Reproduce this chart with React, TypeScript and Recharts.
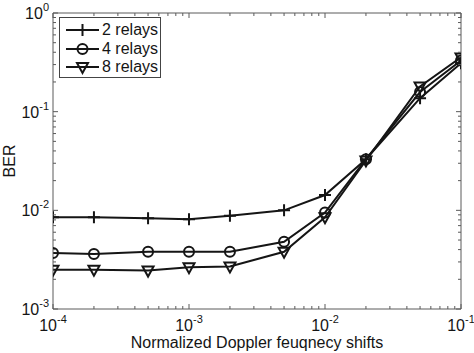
import { LineChart, Line, XAxis, YAxis, Legend } from "recharts"

const dopplerShifts = [1e-4, 2e-4, 5e-4, 1e-3, 2e-3, 5e-3, 1e-2, 2e-2, 5e-2, 1e-1]
const relays2 = [0.0085, 0.0085, 0.0083, 0.0081, 0.0088, 0.01, 0.0143, 0.033, 0.137, 0.31]
const relays4 = [0.0037, 0.0036, 0.0038, 0.0038, 0.0038, 0.0048, 0.0095, 0.033, 0.158, 0.33]
const relays8 = [0.0025, 0.0025, 0.00245, 0.00265, 0.0027, 0.0038, 0.0085, 0.032, 0.18, 0.355]

const xDecades = [-4, -3, -2, -1]
const yDecades = [-3, -2, -1, 0]
const mantissas = [1, 2, 3, 4, 5, 6, 7, 8, 9]

const buildTicks = (decades: number[]) => {
    const out: number[] = []
    decades.forEach((d, i) => {
        if (i === decades.length - 1) {
            out.push(Math.pow(10, d))
            return
        }
        mantissas.forEach((m) => out.push(m * Math.pow(10, d)))
    })
    return out
}
const xTicks = buildTicks(xDecades)
const yTicks = buildTicks(yDecades)

const data = dopplerShifts.map((f, i) => ({
    f,
    r2: relays2[i],
    r4: relays4[i],
    r8: relays8[i],
}))

const INK = "#151515"
const AXIS = "#5a5a5a"
const FONT = "Arial, 'Liberation Sans', sans-serif"

const isMajor = (v: number) => {
    const l = Math.log10(v)
    return Math.abs(l - Math.round(l)) < 1e-6
}

const makeTick = (side: "bottom" | "top" | "left" | "right") => (props: any) => {
    const { x, y, payload } = props
    const v = payload.value
    const major = isMajor(v)
    const len = major ? 5 : 3
    const exp = Math.round(Math.log10(v))
    let line
    if (side === "bottom") line = <line x1={x} y1={y} x2={x} y2={y - len} stroke={AXIS} />
    else if (side === "top") line = <line x1={x} y1={y} x2={x} y2={y + len} stroke={AXIS} />
    else if (side === "left") line = <line x1={x} y1={y} x2={x + len} y2={y} stroke={AXIS} />
    else line = <line x1={x} y1={y} x2={x - len} y2={y} stroke={AXIS} />

    let label = null
    if (major && side === "bottom") {
        label = (
            <text x={x} y={y + 22} textAnchor="middle" fontFamily={FONT} fill={INK}>
                <tspan fontSize={16}>10</tspan>
                <tspan fontSize={11} dy={-8}>{exp}</tspan>
            </text>
        )
    }
    if (major && side === "left") {
        label = (
            <text x={x - 4} y={y + 6} textAnchor="end" fontFamily={FONT} fill={INK}>
                <tspan fontSize={16}>10</tspan>
                <tspan fontSize={11} dy={-8}>{exp}</tspan>
            </text>
        )
    }
    return (
        <g>
            {line}
            {label}
        </g>
    )
}

const PlusMark = ({ cx, cy }: any) => (
    <path d={`M${cx - 6},${cy}H${cx + 6}M${cx},${cy - 6}V${cy + 6}`} stroke={INK} strokeWidth={2} fill="none" />
)
const CircleMark = ({ cx, cy }: any) => (
    <circle cx={cx} cy={cy} r={5} stroke={INK} strokeWidth={2} fill="none" />
)
const TriangleMark = ({ cx, cy }: any) => (
    <path d={`M${cx - 5.5},${cy - 4}L${cx + 5.5},${cy - 4}L${cx},${cy + 6}Z`} stroke={INK} strokeWidth={2} fill="none" />
)

const series = [
    { key: "r2", name: "2 relays", Mark: PlusMark },
    { key: "r4", name: "4 relays", Mark: CircleMark },
    { key: "r8", name: "8 relays", Mark: TriangleMark },
]

const LegendBox = () => (
    <div
        style={{
            border: "1px solid #444",
            background: "#fff",
            width: 102,
            height: 61,
            boxSizing: "border-box",
            paddingTop: 3,
        }}
    >
        {series.map(({ key, name, Mark }) => (
            <div key={key} style={{ display: "flex", alignItems: "center", height: 18.5 }}>
                <svg width={42} height={18} style={{ display: "block" }}>
                    <line x1={6} y1={9} x2={39} y2={9} stroke={INK} strokeWidth={2} />
                    <Mark cx={22.5} cy={9} />
                </svg>
                <span style={{ fontFamily: FONT, fontSize: 16, color: INK, lineHeight: "18px" }}>{name}</span>
            </div>
        ))}
    </div>
)

const renderXLabel = (props: any) => {
    const vb = props.viewBox
    return (
        <text x={vb.x + vb.width / 2} y={vb.y + 39} textAnchor="middle" fontFamily={FONT} fontSize={16} fill={INK}>
            Normalized Doppler feuqnecy shifts
        </text>
    )
}

const renderYLabel = (props: any) => {
    const vb = props.viewBox
    const cy = vb.y + vb.height / 2
    return (
        <text x={15} y={cy} transform={`rotate(-90, 15, ${cy})`} textAnchor="middle" fontFamily={FONT} fontSize={16} fill={INK}>
            BER
        </text>
    )
}

export default function App() {
    return (
        <div style={{ position: "absolute", left: 0, top: 0, width: 474, height: 353, background: "#fff" }}>
            <LineChart width={474} height={353} data={data} margin={{ top: 12, right: 12, left: 0, bottom: 0 }}>
                <XAxis
                    xAxisId="b"
                    dataKey="f"
                    type="number"
                    scale="log"
                    domain={[1e-4, 1e-1]}
                    ticks={xTicks}
                    interval={0}
                    allowDataOverflow
                    height={44}
                    tickSize={0}
                    tickMargin={0}
                    tickLine={false}
                    stroke={AXIS}
                    tick={makeTick("bottom")}
                    label={renderXLabel}
                />
                <XAxis
                    xAxisId="t"
                    orientation="top"
                    dataKey="f"
                    type="number"
                    scale="log"
                    domain={[1e-4, 1e-1]}
                    ticks={xTicks}
                    interval={0}
                    allowDataOverflow
                    height={1}
                    tickSize={0}
                    tickMargin={0}
                    tickLine={false}
                    stroke={AXIS}
                    tick={makeTick("top")}
                />
                <YAxis
                    yAxisId="l"
                    type="number"
                    scale="log"
                    domain={[1e-3, 1]}
                    ticks={yTicks}
                    interval={0}
                    allowDataOverflow
                    width={53}
                    tickSize={0}
                    tickMargin={0}
                    tickLine={false}
                    stroke={AXIS}
                    tick={makeTick("left")}
                    label={renderYLabel}
                />
                <YAxis
                    yAxisId="r"
                    orientation="right"
                    type="number"
                    scale="log"
                    domain={[1e-3, 1]}
                    ticks={yTicks}
                    interval={0}
                    allowDataOverflow
                    width={1}
                    tickSize={0}
                    tickMargin={0}
                    tickLine={false}
                    stroke={AXIS}
                    tick={makeTick("right")}
                />
                <Legend
                    layout="vertical"
                    align="center"
                    verticalAlign="middle"
                    wrapperStyle={{ position: "absolute", left: 59, top: 17, width: "auto", height: "auto" }}
                    content={() => <LegendBox />}
                />
                {series.map(({ key, name, Mark }) => (
                    <Line
                        key={key}
                        xAxisId="b"
                        yAxisId="l"
                        dataKey={key}
                        name={name}
                        type="linear"
                        stroke={INK}
                        strokeWidth={2}
                        isAnimationActive={false}
                        dot={(p: any) => <Mark key={`${key}-${p.index}`} cx={p.cx} cy={p.cy} />}
                        activeDot={false}
                    />
                ))}
            </LineChart>
        </div>
    )
}
